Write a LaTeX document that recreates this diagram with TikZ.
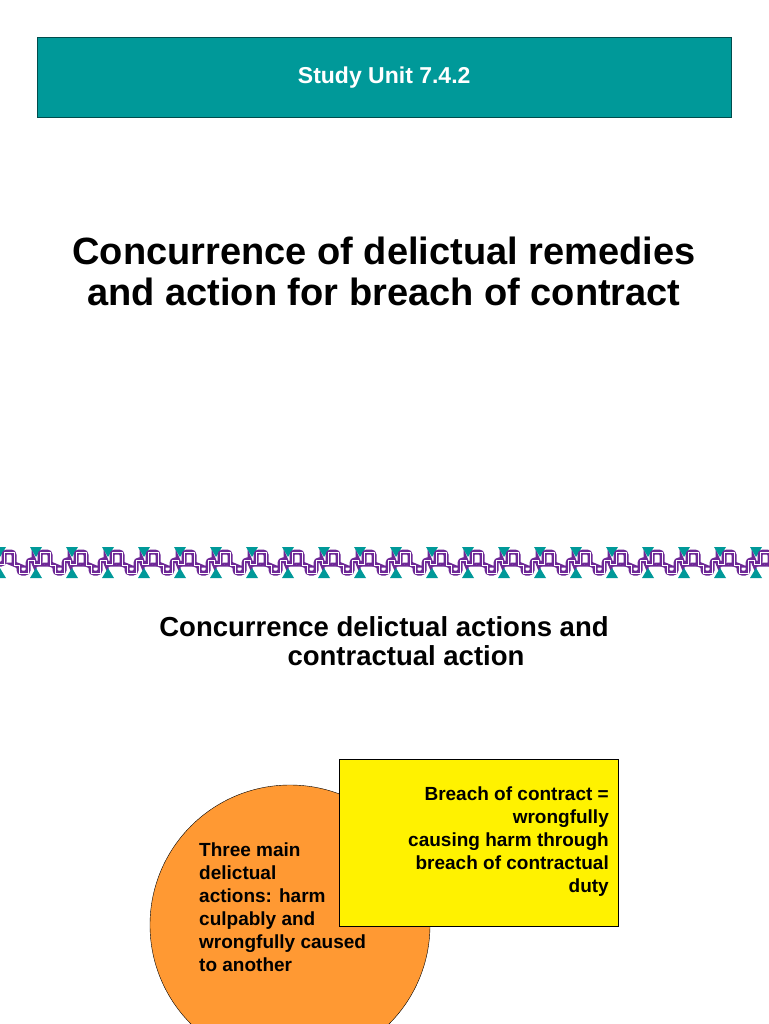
\documentclass[tikz,border=0pt]{standalone}
\usepackage{fontspec}
\setmainfont{Liberation Sans}
\definecolor{tealc}{RGB}{0,153,153}
\definecolor{orng}{RGB}{255,153,51}
\definecolor{purp}{RGB}{110,40,150}
\begin{document}
\begin{tikzpicture}[x=1pt,y=-1pt,
  txt/.style={align=center, inner sep=0},
  meander/.style={draw=purp, line width=5pt, rounded corners=3pt}]
\useasboundingbox (0,0) rectangle (768,1024);
\fill[white] (0,0) rectangle (768,1024);
\node[draw=teal!60!black, fill=tealc, minimum width=694pt, minimum height=80pt, anchor=north west, inner sep=0] (hdr) at (37,37) {};
\node[txt, white, font=\bfseries\fontsize{23}{26}\selectfont] (hdrt) at (hdr.center) {Study Unit 7.4.2};
\node[txt, font=\bfseries\fontsize{38}{41}\selectfont] (title) at (384,271) {Concurrence of delictual remedies\\and action for breach of contract};
% band
\foreach \i in {0,...,21} {
  \pgfmathsetmacro{\x}{\i*36}
  \fill[tealc] (\x-6,547) -- (\x+6,547) -- (\x,557) -- cycle;
  \fill[tealc] (\x-6,578) -- (\x+6,578) -- (\x,568) -- cycle;
  \draw[meander] (\x,564) -- (\x+4,564) -- (\x+4,552) -- (\x+14,552) -- (\x+14,565) -- (\x+19,565) -- (\x+19,573) -- (\x+28,573) -- (\x+28,560) -- (\x+34,560) -- (\x+34,564) -- (\x+36,564);
  \draw[white, line width=0.8pt] (\x,564) -- (\x+4,564) -- (\x+4,552) -- (\x+14,552) -- (\x+14,565) -- (\x+19,565) -- (\x+19,573) -- (\x+28,573) -- (\x+28,560) -- (\x+34,560) -- (\x+34,564) -- (\x+36,564);
}
\node[txt, font=\bfseries\fontsize{27.5}{29}\selectfont] (sub) at (384,641) {Concurrence delictual actions and\\\hspace{44pt}contractual action};
\node[circle, draw=black, fill=orng, minimum size=280pt, inner sep=0] (circ) at (290,925) {};
\node[txt, align=left, anchor=north west, font=\bfseries\fontsize{19}{23}\selectfont] (ct) at (199,843) {Three main\\delictual\\actions: harm\\culpably and\\wrongfully caused\\to another};
\node[draw=black, fill=yellow, minimum width=279pt, minimum height=167pt, anchor=north west, inner sep=0] (yb) at (339,759) {};
\node[txt, align=right, anchor=north east, font=\bfseries\fontsize{19}{23}\selectfont] (yt) at (609,787) {Breach of contract =\\wrongfully\\causing harm through\\breach of contractual\\duty};
\end{tikzpicture}
\end{document}
